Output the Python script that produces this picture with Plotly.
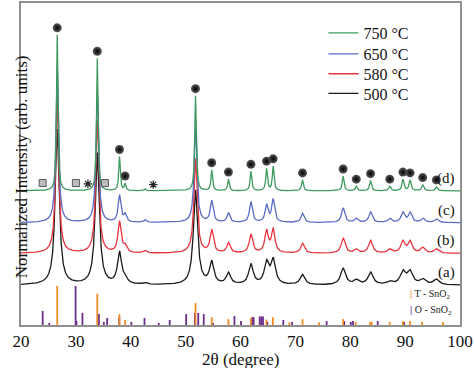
import numpy as np
import plotly.graph_objects as go

# ---------------- data ----------------
SERIES = ["500 °C", "580 °C", "650 °C", "750 °C"]
CURVE_LABELS = ["(a)", "(b)", "(c)", "(d)"]
COLORS = ["#1a1a1a", "#e8343f", "#5a6dc2", "#3d9a5e"]
OFFSETS = [0.255, 0.459, 0.656, 0.860]          # baseline of each stacked pattern
HWHM = [0.42, 0.32, 0.27, 0.15]                  # peak half-width (deg) at low angle

# cassiterite peak positions (2θ, deg)
PEAK_POS = [26.6, 33.9, 37.95, 38.97, 42.6, 51.8, 54.75, 57.8, 61.9, 64.75,
            65.95, 71.3, 78.7, 81.1, 83.7, 87.2, 89.6, 90.9, 93.2, 95.7]
# ball marker shown above the peak (1) or not (0)
PEAK_MARK = [1, 1, 1, 1, 0, 1, 1, 1, 1, 1, 1, 1, 1, 1, 1, 1, 1, 1, 1, 1]

# apparent peak heights above baseline (% of strongest peak)
H_500 = [100, 85, 22, 7.5, 2, 61, 16, 8.5, 14, 16.5, 18, 7, 11, 4, 8.5, 3, 10, 10, 4.5, 4]
H_580 = [100, 85, 21, 6.5, 2, 61, 15.5, 7, 12.5, 15.5, 16.5, 6.5, 10, 3, 8.5, 3, 8.5, 8.5, 4, 3]
H_650 = [100, 85, 18, 6.5, 2, 61, 14.5, 6.5, 13.5, 12, 15.5, 6, 9.5, 3, 7, 3, 7, 7, 3, 2.5]
H_750 = [100, 85, 22, 5, 1.3, 61, 13.5, 7.5, 12.5, 14.5, 16, 7, 9.5, 3, 6.5, 3, 7.5, 7, 4, 2.5]
HEIGHTS = [H_500, H_580, H_650, H_750]

# impurity markers on the 750 °C pattern
SQUARE_POS = [23.95, 30.0, 35.3]
STAR_POS = [32.2, 44.1]

# reference sticks: tetragonal SnO2 (orange) and orthorhombic SnO2 (purple)
T_POS = [26.6, 33.9, 37.95, 38.97, 51.8, 54.75, 57.8, 61.9, 64.7, 65.9, 68.9,
         71.3, 74.3, 78.7, 81.0, 83.6, 83.9, 87.2, 89.6, 90.9, 93.1, 96.9]
T_INT = [100, 80, 28, 13, 56, 20, 15, 18, 14, 20, 7,
         15, 7, 15, 8, 8, 8, 8, 10, 10, 8, 8]
O_POS = [23.95, 25.15, 29.95, 30.1, 31.2, 34.2, 35.1, 35.7, 37.9, 40.1, 42.5,
         45.1, 47.1, 50.1, 51.7, 52.3, 53.3, 55.0, 58.9, 60.1, 62.1, 62.4,
         63.5, 63.8, 64.1, 64.9, 67.8, 69.4, 75.7, 78.9, 80.1, 80.5, 85.0, 89.8]
O_INT = [36, 5, 100, 10, 31, 28, 8, 18, 20, 8, 18,
         5, 13, 28, 31, 31, 28, 5, 23, 10, 20, 20,
         22, 22, 22, 8, 13, 8, 10, 10, 8, 10, 10, 8]

STICK_SCALE = 0.25      # height of a 100 % stick in normalized units
BALL_GAP = 0.045
X_TICKS = [20, 30, 40, 50, 60, 70, 80, 90, 100]
LEGEND_Y = [0.719, 0.780, 0.842, 0.907]          # legend row for 500, 580, 650, 750 °C

# ---------------- build the patterns ----------------
x = np.arange(20.0, 100.0001, 0.02)
pos = np.array(PEAK_POS)


def lor(xx, c, w):
    return 1.0 / (1.0 + ((xx - c) / w) ** 2)


fig = go.Figure()
FONT = "Liberation Serif"
LEGEND_NAMES = ["legend", "legend2", "legend3", "legend4"]

for s in range(4):
    w = HWHM[s] / np.cos(np.radians(pos / 2.0))
    target = np.array(HEIGHTS[s]) / 100.0
    A = lor(pos[:, None], pos[None, :], w[None, :])
    amp = np.clip(np.linalg.solve(A, target), 0, None)
    y = OFFSETS[s] + (amp[None, :] * lor(x[:, None], pos[None, :], w[None, :])).sum(axis=1)
    fig.add_trace(go.Scatter(x=x, y=y, mode="lines", name=SERIES[s],
                             line=dict(color=COLORS[s], width=1.3),
                             showlegend=True, legend=LEGEND_NAMES[s]))

# ball markers above the 750 °C peaks
bx = [p for p, m in zip(PEAK_POS, PEAK_MARK) if m]
by = [OFFSETS[3] + h / 100.0 + BALL_GAP for h, m in zip(H_750, PEAK_MARK) if m]
fig.add_trace(go.Scatter(x=bx, y=by, mode="markers", showlegend=False,
                         marker=dict(size=9, color="#5a5a5a", symbol="circle",
                                     gradient=dict(type="radial", color="#000000"),
                                     line=dict(width=0))))
fig.add_trace(go.Scatter(x=SQUARE_POS, y=[OFFSETS[3] + 0.05] * len(SQUARE_POS),
                         mode="markers", showlegend=False,
                         marker=dict(size=7, symbol="square", color="#bcbcbc",
                                     line=dict(color="#5a5a5a", width=1))))
fig.add_trace(go.Scatter(x=STAR_POS, y=[OFFSETS[3] + 0.045, OFFSETS[3] + 0.04],
                         mode="markers", showlegend=False,
                         marker=dict(size=7, symbol="asterisk-open", color="#222222",
                                     line=dict(color="#222222", width=1.2))))


def sticks(p, inten):
    xs, ys = [], []
    for a, b in zip(p, inten):
        xs += [a, a, None]
        ys += [0, b / 100.0 * STICK_SCALE, None]
    return xs, ys


ox, oy = sticks(O_POS, O_INT)
tx, ty = sticks(T_POS, T_INT)
fig.add_trace(go.Scatter(x=ox, y=oy, mode="lines", showlegend=False,
                         line=dict(color="#6b2d8e", width=1.8)))
fig.add_trace(go.Scatter(x=tx, y=ty, mode="lines", showlegend=False,
                         line=dict(color="#f28c28", width=1.8)))

annotations = []
for s in range(4):
    annotations.append(dict(x=100, y=OFFSETS[s] + 0.08, xref="x", yref="y",
                            text=CURVE_LABELS[s], showarrow=False, xanchor="right",
                            xshift=-3, font=dict(size=15, color="#111", family=FONT)))
annotations.append(dict(x=-0.026, y=0.49, xref="paper", yref="paper", textangle=-90,
                        text="Normalized Intensity (arb. units)", showarrow=False,
                        font=dict(size=17, color="#111", family=FONT)))
annotations.append(dict(x=0.5, y=-0.106, xref="paper", yref="paper",
                        text="2θ (degree)", showarrow=False, yanchor="middle",
                        font=dict(size=17, color="#111", family=FONT)))
annotations.append(dict(x=0.882, y=0.096, xref="paper", yref="paper", xanchor="left",
                        yanchor="middle",
                        text="<span style='color:#f28c28'><b>|</b></span> T - SnO<sub>2</sub>",
                        showarrow=False, font=dict(size=10, color="#222", family=FONT)))
annotations.append(dict(x=0.882, y=0.044, xref="paper", yref="paper", xanchor="left",
                        yanchor="middle",
                        text="<span style='color:#6b2d8e'><b>|</b></span> O - SnO<sub>2</sub>",
                        showarrow=False, font=dict(size=10, color="#222", family=FONT)))

legend_common = dict(x=0.689, xanchor="left", yanchor="middle",
                     bgcolor="rgba(0,0,0,0)", font=dict(size=16, family=FONT, color="#111"),
                     itemwidth=30)
fig.update_layout(
    width=474, height=368,
    margin=dict(l=21, r=13, t=1, b=43),
    paper_bgcolor="white", plot_bgcolor="white",
    font=dict(family=FONT, size=17, color="#111"),
    showlegend=True,
    legend=dict(y=LEGEND_Y[0], **legend_common),
    legend2=dict(y=LEGEND_Y[1], **legend_common),
    legend3=dict(y=LEGEND_Y[2], **legend_common),
    legend4=dict(y=LEGEND_Y[3], **legend_common),
    annotations=annotations,
)
fig.update_xaxes(range=[20, 100], tickvals=X_TICKS, ticks="", showgrid=False,
                 zeroline=False, showline=True, mirror=True, linecolor="#8f8f8f",
                 linewidth=2, tickfont=dict(size=17, family=FONT, color="#111"))
fig.update_yaxes(range=[0, 2.064], showticklabels=False, ticks="", showgrid=False,
                 zeroline=False, showline=True, mirror=True, linecolor="#8f8f8f",
                 linewidth=2)

fig.write_html("out.html", config={"displayModeBar": False},
               post_script="document.body.style.margin='0';")
